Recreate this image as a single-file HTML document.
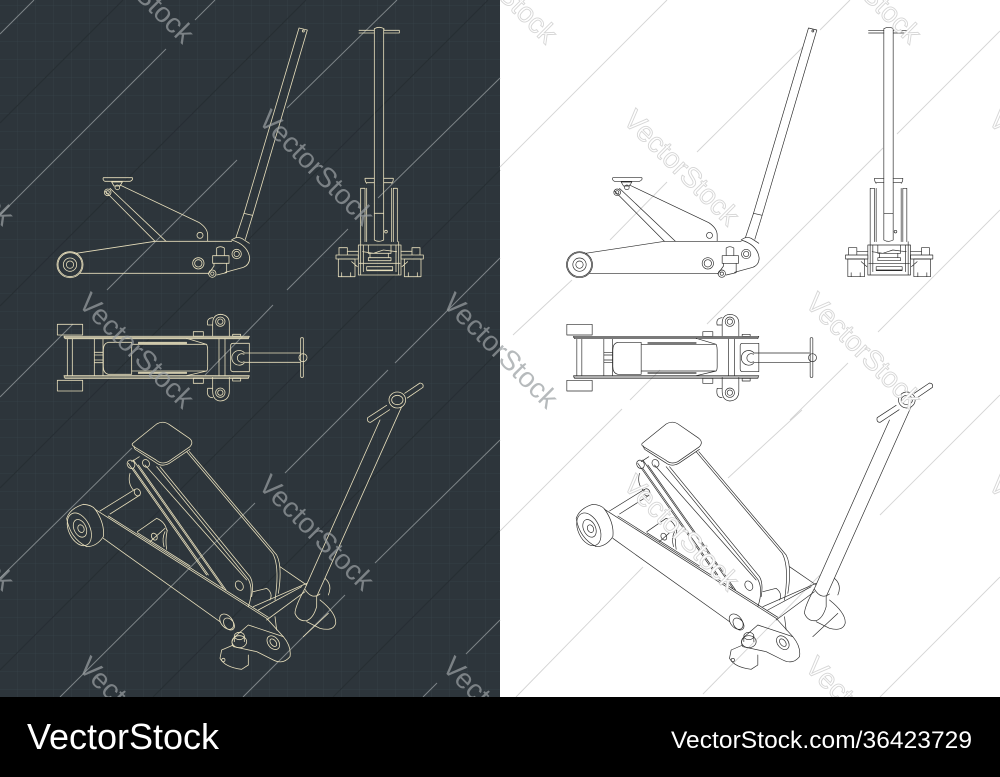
<!DOCTYPE html>
<html><head><meta charset="utf-8"><title>Jack blueprint</title>
<style>
html,body{margin:0;padding:0;background:#000;width:1000px;height:777px;overflow:hidden}
svg{display:block;overflow:hidden}
text{font-family:"Liberation Sans",sans-serif}
</style></head>
<body>
<svg xmlns="http://www.w3.org/2000/svg" width="1000" height="777" viewBox="0 0 1000 777">
<defs>
<pattern id="g" width="18" height="18" patternUnits="userSpaceOnUse" x="-1" y="5">
<path d="M0 0V18M0 0H18" stroke="#364248" stroke-width=".8" fill="none"/>
</pattern>
<g id="jack" fill="none" stroke-linejoin="round" stroke-linecap="round">
<!-- side view -->
<g transform="translate(40,160) scale(.33333)">
<circle cx="90" cy="314" r="39"/><circle cx="90" cy="314" r="36"/><circle cx="90" cy="314" r="20"/><circle cx="90" cy="314" r="11"/>
<path d="M108 280L345 244H575M120 340H505"/>
<path d="M575 240Q625 255 629 295Q628 315 610 322L555 337"/>
<circle cx="590" cy="282" r="14"/><circle cx="590" cy="282" r="8"/>
<circle cx="475" cy="310" r="17"/><circle cx="475" cy="310" r="11"/>
<path d="M518 287H567V310H518ZM530 285V264Q541 256 553 264V285M522 310V318L505 342M560 310V338L530 345"/>
<circle cx="517" cy="341" r="11"/><circle cx="517" cy="341" r="5"/>
<path d="M240 75L478 188Q503 205 503 225V243"/>
<circle cx="480" cy="226" r="9"/>
<path d="M195 93L345 244M210 85L378 244"/>
<circle cx="203" cy="97" r="10"/><circle cx="203" cy="97" r="5"/><circle cx="232" cy="82" r="7"/>
<path d="M190 53H277Q280 60 270 64H195Q187 60 190 53ZM215 66H247L240 78H222Z"/>
<path d="M588 232L612 160L638 166L616 238M575 240Q590 228 605 235L628 250"/>
<path d="M612 160L777 -396L802 -390L638 166"/>
<circle cx="790" cy="-387" r="3"/>
</g>
<!-- front view -->
<g transform="translate(320,170) scale(.33333)">
<path d="M117 -419H163M192 -419H238V-411H192M163 -411H117Z"/>
<path d="M163 -419V-424Q177 -432 192 -424V-419M163 -424V130M191 -424V130"/>
<path d="M163 130H191V210Q176 218 163 210V130M122 215V55H135V215M220 215V55H232V215M140 55V215M215 55V215"/>
<path d="M135 25H163M191 25H220M140 38H163M191 38H215M135 25Q135 35 140 40M220 25Q220 35 215 40"/>
<path d="M115 225H243V315H115ZM122 215V315M236 215V315M130 225V305M228 225V305M145 225V250H213V225M145 263H213V272H145ZM140 290H218V300H140ZM140 302H218M128 245L160 250L190 240L230 245M150 250V262M205 250V262M118 280H240"/>
<path d="M48 255H115V267H48ZM243 255H310V267H243ZM57 233H82V255H57ZM276 233H300V255H276Z"/>
<path d="M55 267H105V320H55ZM253 267H303V320H253ZM82 244H115M243 244H276M65 320V308M92 320V308M265 320V308M292 320V308M95 275L112 290M263 275L246 290"/>
<circle cx="198" cy="185" r="4"/>
</g>
<!-- top view -->
<g transform="translate(40,305) scale(.33333)">
<rect x="52" y="58" width="76" height="32"/><rect x="52" y="226" width="76" height="32"/>
<path d="M72 94H628L625 101H75ZM72 98H625M72 212H628L625 220H75ZM72 216H625M82 101V212M97 101V212M163 101V212M189 101V212"/>
<path d="M163 142H189M163 150H189M163 165H189M163 173H189"/>
<path d="M275 112H205Q190 115 190 135V185Q190 205 205 208H275ZM275 118H500Q503 125 503 135V185Q503 195 500 198H275M295 112H440M295 115H440M295 205H440M295 202H440M440 100L500 118M440 212L500 198"/>
<path d="M537 101V212M555 101V212"/>
<path d="M518 94V55Q518 30 541 28Q568 30 568 55V94M518 218V258Q518 286 541 288Q568 286 568 258V218M518 38Q498 40 503 60H518M518 250H503Q498 278 518 278"/>
<circle cx="541" cy="50" r="14"/><circle cx="541" cy="50" r="8"/><circle cx="541" cy="263" r="14"/><circle cx="541" cy="263" r="8"/>
<path d="M460 80H490V94H460ZM460 220H490V235H460ZM578 88H602V94H578ZM578 220H602V228H578Z"/>
<path d="M572 122Q572 115 580 115H628V200H580Q572 200 572 192Z"/>
<path d="M612 142A22 22 0 1 0 612 175M612 148A13 13 0 1 0 612 170M612 144H780M612 172H780"/>
<rect x="782" y="98" width="8" height="119" rx="3"/><circle cx="789" cy="158" r="12"/>
</g>
<!-- isometric view -->
<g transform="translate(50,410) scale(.33333)">
<path d="M248 100L320 42Q340 30 360 45L418 85Q432 96 420 110L355 155Q335 165 318 150L255 112Q243 105 248 100ZM252 108Q252 118 262 122L318 158Q335 172 358 160L420 118"/>
<path d="M135 298L650 625L700 680M175 318L655 622M160 385L510 635"/>
<path d="M50 325Q60 295 100 283Q125 285 135 297Q165 340 160 380Q140 410 110 410Q60 385 50 325Z"/>
<ellipse cx="88" cy="358" rx="32" ry="52" transform="rotate(-25 88 358)"/>
<ellipse cx="90" cy="355" rx="18" ry="28" transform="rotate(-25 90 355)"/>
<ellipse cx="93" cy="356" rx="9" ry="12" transform="rotate(-25 93 356)"/>
<path d="M150 303L255 238M180 312L270 255"/>
<ellipse cx="262" cy="247" rx="9" ry="11" transform="rotate(-25 262 247)"/>
<path d="M262 365L320 325M300 395L345 355M320 325Q345 335 350 360M345 365Q335 385 342 410M352 360Q345 390 350 418M262 368L420 468"/>
<ellipse cx="313" cy="380" rx="8" ry="11" transform="rotate(-30 313 380)"/>
<path d="M235 160L470 495M250 150L520 535M250 175L475 495M265 165L528 540M285 165L590 510"/>
<ellipse cx="243" cy="163" rx="11" ry="13" transform="rotate(-30 243 163)"/>
<ellipse cx="288" cy="160" rx="10" ry="12" transform="rotate(-30 288 160)"/>
<path d="M240 190Q232 220 250 240M268 140L245 155"/>
<path d="M320 170L595 508Q612 540 595 590M330 170L600 500Q612 520 605 560"/>
<path d="M410 125L668 430Q690 470 675 570M418 125L680 435Q698 470 685 550"/>
<ellipse cx="568" cy="527" rx="11" ry="15" transform="rotate(-30 568 527)"/>
<path d="M690 470L770 525M610 590L770 520M625 600L755 530M650 630L765 545M610 545L650 535Q670 550 660 570"/>
<path d="M990 30L765 535Q735 590 735 610Q745 635 770 632Q790 625 800 590L800 560L1055 -10"/>
<path d="M765 538Q785 570 810 552"/>
<path d="M825 505Q848 525 835 555M810 570Q860 610 857 640Q850 665 810 655L770 635M835 610L760 680"/>
<path d="M595 645L700 680Q725 710 720 740Q700 765 670 750L620 725M595 645L555 680Q540 695 550 710L620 725M675 620L680 660"/>
<ellipse cx="530" cy="635" rx="17" ry="26" transform="rotate(-38 530 635)"/>
<ellipse cx="537" cy="642" rx="14" ry="20" transform="rotate(-38 537 642)"/>
<ellipse cx="670" cy="698" rx="16" ry="23" transform="rotate(-38 670 698)"/>
<ellipse cx="670" cy="698" rx="8" ry="13" transform="rotate(-38 670 698)"/>
<path d="M550 705L515 720L510 745Q525 772 575 778L595 765V735"/>
<circle cx="520" cy="750" r="5"/>
<ellipse cx="568" cy="695" rx="22" ry="18"/><ellipse cx="568" cy="678" rx="15" ry="11"/><path d="M553 678V695M583 678V695"/>
<path d="M1010 -14L953 23Q950 37 962 37L1019 -1"/>
<path d="M1064 -50L1110 -81Q1122 -80 1119 -68L1072 -36"/>
<ellipse cx="1042" cy="-30" rx="25" ry="24"/><ellipse cx="1042" cy="-30" rx="17" ry="14"/>
</g>
</g>
</defs>

<!-- panels -->
<rect width="500" height="697" fill="#2d353b"/>
<rect width="500" height="697" fill="url(#g)"/>
<rect x="500" width="500" height="697" fill="#fff"/>

<!-- dark faint diagonals -->
<g stroke="#272e33" stroke-width="1" fill="none">
<path d="M0 123L123 0M0 306L306 0M0 488L488 0M0 670L500 170M153 697L500 350M333 697L500 530"/>
</g>
<!-- light diagonals on dark -->
<g stroke="#7d8487" stroke-width="1" fill="none">
<path d="M0 34L34 0M0 215L166 49M195 20L215 0M0 397L73 324M107 290L237 160M287 108L397 0M0 578L132 448M205 375L273 305M287 290L348 229M378 198L500 78M60 697L255 503M285 473L388 370M395 363L500 258M243 697L345 595M375 563L500 440M423 697L437 683M466 654L500 620"/>
</g>
<!-- diagonals on white -->
<g stroke="#d4d4d4" stroke-width=".9" fill="none">
<path d="M500 167L667 0M513 335L572 280M610 240L667 182M697 152L803 47M820 30L850 0M500 531L622 409M630 400L660 370M707 324L883 148M897 134L1000 31M516 697L643 567M728 478L802 410M790 420L848 363M878 332L1000 210M703 694L820 575M880 515L1000 395M880 697L1000 577"/>
</g>

<!-- drawings -->
<use href="#jack" stroke="#e8dfbc" stroke-width="2.4"/>
<use href="#jack" transform="translate(509.5,0)" stroke="#2a2a2a" stroke-width="2"/>

<!-- watermarks on dark -->
<g fill="#9aa0a2" fill-opacity=".72" font-size="28" transform="translate(0,4)">
<text transform="translate(135,-17) rotate(45)" text-anchor="middle" dominant-baseline="middle">VectorStock</text>
<text transform="translate(315,165) rotate(45)" text-anchor="middle" dominant-baseline="middle">VectorStock</text>
<text transform="translate(-45,165) rotate(45)" text-anchor="middle" dominant-baseline="middle">VectorStock</text>
<text transform="translate(135,348) rotate(45)" text-anchor="middle" dominant-baseline="middle">VectorStock</text>
<text transform="translate(315,530) rotate(45)" text-anchor="middle" dominant-baseline="middle">VectorStock</text>
<text transform="translate(-45,530) rotate(45)" text-anchor="middle" dominant-baseline="middle">VectorStock</text>
<text transform="translate(499,348) rotate(45)" text-anchor="middle" dominant-baseline="middle">VectorStock</text>
<text transform="translate(82,659) rotate(45)" dominant-baseline="middle">Vecto</text>
<text transform="translate(446,659) rotate(45)" dominant-baseline="middle">Vecto</text>
</g>
<!-- watermarks on white -->
<g fill="#fff" stroke="#d6d6d6" stroke-width=".9" font-size="28" transform="translate(0,4)">
<text transform="translate(498,-17) rotate(45)" text-anchor="middle" dominant-baseline="middle">VectorStock</text>
<text transform="translate(680,165) rotate(45)" text-anchor="middle" dominant-baseline="middle">VectorStock</text>
<text transform="translate(862,-17) rotate(45)" text-anchor="middle" dominant-baseline="middle">VectorStock</text>
<text transform="translate(862,348) rotate(45)" text-anchor="middle" dominant-baseline="middle">VectorStock</text>
<text transform="translate(680,530) rotate(45)" text-anchor="middle" dominant-baseline="middle">VectorStock</text>
<text transform="translate(1045,165) rotate(45)" text-anchor="middle" dominant-baseline="middle">VectorStock</text>
<text transform="translate(1045,530) rotate(45)" text-anchor="middle" dominant-baseline="middle">VectorStock</text>
<text transform="translate(809,659) rotate(45)" dominant-baseline="middle">Vecto</text>
</g>

<!-- footer -->
<rect y="697" width="1000" height="80" fill="#000"/>
<text x="27" y="749" font-size="36" fill="#fff" textLength="192">VectorStock</text>
<text x="671" y="748" font-size="24.5" fill="#fff" textLength="301">VectorStock.com/36423729</text>
</svg>
</body></html>
